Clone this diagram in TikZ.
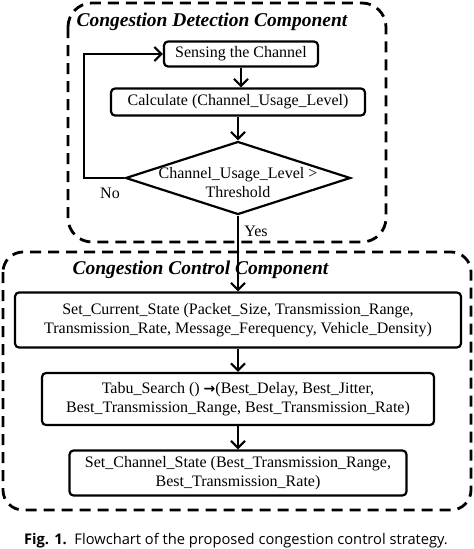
\documentclass[tikz,border=0pt]{standalone}
\usepackage{fontspec}
\setmainfont{Liberation Serif}
\newfontfamily\capfont{Open Sans}
\newfontfamily\symfont{DejaVu Sans}
\usetikzlibrary{shapes.geometric,arrows.meta}
\tikzset{
  box/.style={draw,line width=2.2pt,rounded corners=4pt,align=center,inner sep=0pt,font=\fontsize{16}{19}\selectfont},
  dec/.style={draw,diamond,line width=2.2pt,inner sep=0pt,minimum width=225pt,minimum height=73pt},
  zone/.style={draw,line width=2.8pt,dash pattern=on 11pt off 7pt},
  arr/.style={line width=2.2pt,-{Straight Barb[length=7pt,width=14pt,line width=2.2pt]}},
  ttl/.style={font=\fontsize{19.5}{22}\selectfont\bfseries\itshape,anchor=west},
  lbl/.style={font=\fontsize{16}{19}\selectfont},
}

\begin{document}
\begin{tikzpicture}[x=1pt,y=-1pt]
  \useasboundingbox (0,0) rectangle (474,549);
  \draw[zone,rounded corners=24pt] (68,3) rectangle (386,242);
  \draw[zone,rounded corners=20pt] (3,252) rectangle (471,510);
  \node[ttl] (t1) at (73,22) {Congestion Detection Component};
  \node[ttl] (t2) at (69,270) {Congestion Control Component};
  \node[box,minimum width=154pt,minimum height=25pt] (sense) at (241,54) {Sensing the Channel};
  \node[box,minimum width=254pt,minimum height=27pt] (calc) at (238,102) {Calculate (Channel\_Usage\_Level)};
  \node[dec,label={[lbl,align=center,yshift=-5pt]center:{Channel\_Usage\_Level >\\Threshold}}] (test) at (238,178) {};
  \node[box,minimum width=446pt,minimum height=55pt] (cur) at (238,320) {Set\_Current\_State (Packet\_Size, Transmission\_Range,\\Transmission\_Rate, Message\_Ferequency, Vehicle\_Density)};
  \node[box,minimum width=392pt,minimum height=52pt] (tabu) at (238,399) {Tabu\_Search () {\symfont\bfseries\fontsize{14}{19}\selectfont →}(Best\_Delay, Best\_Jitter,\\Best\_Transmission\_Range, Best\_Transmission\_Rate)};
  \node[box,minimum width=337pt,minimum height=45pt] (chan) at (238,473) {Set\_Channel\_State (Best\_Transmission\_Range,\\Best\_Transmission\_Rate)};
  \node[lbl] (no) at (110,193) {No};
  \node[lbl] (yes) at (256,231) {Yes};
  \coordinate (bend) at (84,178);
  \draw[arr] (sense) -- (sense |- calc.north);
  \draw[arr] (calc) -- (test);
  \draw[arr] (test.west) -- (bend) |- (sense.west);
  \draw[arr] (test) -- (cur);
  \draw[arr] (cur) -- (tabu);
  \draw[arr] (tabu) -- (chan);
  \node[font=\capfont\fontsize{14.7}{16}\selectfont] (cap) at (236,541) {\textbf{Fig. 1.}\ \ Flowchart of the proposed congestion control strategy.};
\end{tikzpicture}
\end{document}
